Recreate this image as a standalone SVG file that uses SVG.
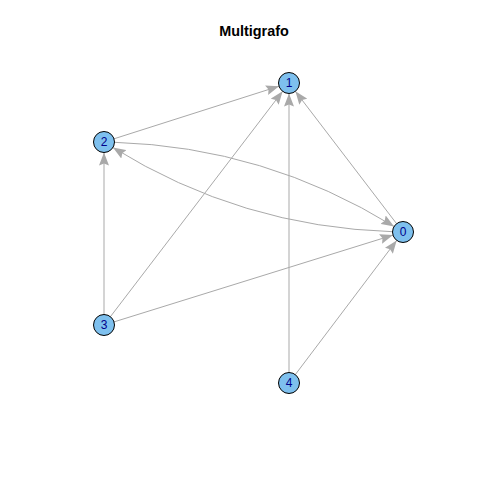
<svg xmlns="http://www.w3.org/2000/svg" width="480" height="480" viewBox="0 0 480 480">
<style>
.e{fill:none;stroke:#A9A9A9;stroke-width:1;marker-end:url(#ar)}
.n{fill:#7EC0EE;stroke:#000;stroke-width:1}
.l{font-family:"Liberation Sans",Arial,sans-serif;font-size:12px;fill:#00008B;text-anchor:middle;dominant-baseline:central}
.t{font-family:"Liberation Sans",Arial,sans-serif;font-size:14.4px;font-weight:bold;fill:#000;text-anchor:middle}
</style>
<defs>
<marker id="ar" markerUnits="userSpaceOnUse" viewBox="0 0 13 10" markerWidth="13" markerHeight="10" refX="13" refY="5" orient="auto">
<path d="M13,5 L0,0 L2,5 L0,10 Z" fill="#A9A9A9"/>
</marker>
</defs>
<rect width="480" height="480" fill="#fff"/>
<text class="t" x="254" y="36">Multigrafo</text>
<g id="edges">
<path class="e" d="M114,138.8 L279,86.2"/>
<path class="e" d="M110.4,316.7 L282.6,91.3"/>
<path class="e" d="M289,372.5 L289,93.5"/>
<path class="e" d="M396.6,223.7 L295.4,91.3"/>
<path class="e" d="M104,314.5 L104,152.5"/>
<path class="e" d="M114,321.9 L393,235.1"/>
<path class="e" d="M295.3,374.6 L396.7,240.4"/>
<path class="e" d="M114.5,142.3 Q265,147 394.1,226.5"/>
<path class="e" d="M392.5,231.7 Q241,227 112.9,147.5"/>
</g>
<g id="node0"><circle class="n" cx="403" cy="232" r="10.5"/><text class="l" x="403" y="232">0</text></g>
<g id="node1"><circle class="n" cx="289" cy="83" r="10.5"/><text class="l" x="289" y="83">1</text></g>
<g id="node2"><circle class="n" cx="104" cy="142" r="10.5"/><text class="l" x="104" y="142">2</text></g>
<g id="node3"><circle class="n" cx="104" cy="325" r="10.5"/><text class="l" x="104" y="325">3</text></g>
<g id="node4"><circle class="n" cx="289" cy="383" r="10.5"/><text class="l" x="289" y="383">4</text></g>
</svg>
